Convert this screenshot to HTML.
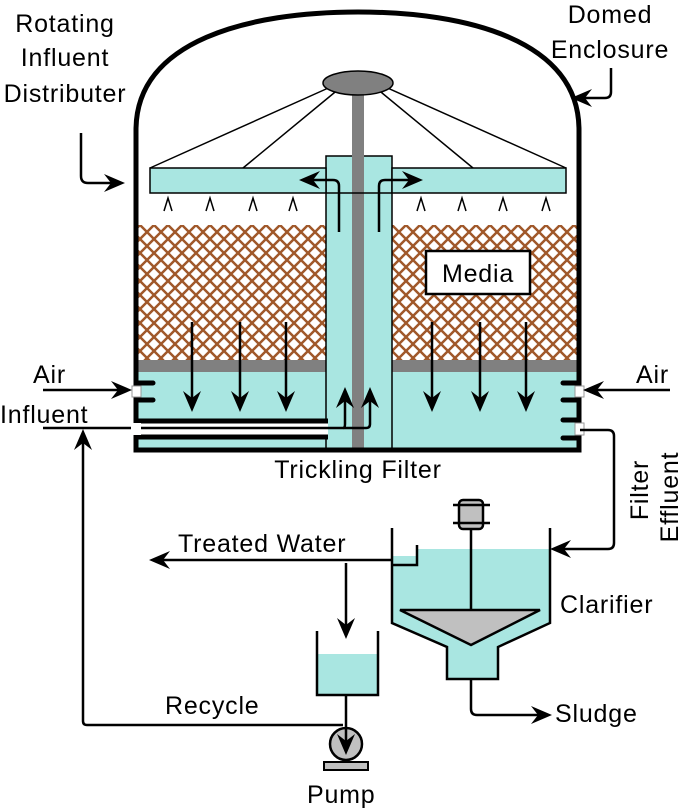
<!DOCTYPE html>
<html><head><meta charset="utf-8"><style>
html,body{margin:0;padding:0;background:#fff;}
svg{display:block;}
text{font-family:"Liberation Sans",sans-serif;font-size:25px;letter-spacing:0.8px;fill:#000;}
</style></head><body>
<svg width="685" height="810" viewBox="0 0 685 810" xmlns="http://www.w3.org/2000/svg" xmlns:xlink="http://www.w3.org/1999/xlink">
<defs>
<pattern id="hatch" width="14" height="14" patternUnits="userSpaceOnUse" x="0" y="225">
<rect width="14" height="14" fill="#fff"/>
<path d="M-1,-1 L15,15 M15,-1 L-1,15" stroke="#a0582a" stroke-width="2.5"/>
</pattern>
<path id="h" d="M1,0 L-20,-9 L-13,0 L-20,9 Z" fill="#000"/>
</defs>

<rect x="138" y="225" width="188" height="135" fill="url(#hatch)"/>
<rect x="392" y="225" width="186" height="135" fill="url(#hatch)"/>
<rect x="138" y="360" width="440" height="12" fill="#808080"/>
<rect x="138" y="372" width="440" height="77" fill="#a9e6e1"/>
<rect x="326" y="156" width="66" height="294" fill="#a9e6e1" stroke="#000" stroke-width="1.5"/>
<rect x="352" y="92" width="12" height="357" fill="#808080"/>
<rect x="150" y="168" width="176" height="25" fill="#a9e6e1" stroke="#000" stroke-width="1.5"/>
<rect x="392" y="168" width="174" height="25" fill="#a9e6e1" stroke="#000" stroke-width="1.5"/>
<line x1="326" y1="193" x2="392" y2="193" stroke="#000" stroke-width="1.5"/>
<g stroke="#000" stroke-width="1.5" fill="none">
<path d="M335,85 L150,168 M340,88 L243,168 M381,85 L566,168 M376,88 L473,168"/>
<path d="M164,211 L168,198 L172,211 M206,211 L210,198 L214,211 M249,211 L253,198 L257,211 M289,211 L293,198 L297,211 M417,211 L421,198 L425,211 M458,211 L462,198 L466,211 M499,211 L503,198 L507,211 M542,211 L546,198 L550,211"/>
</g>
<ellipse cx="358" cy="83" rx="35" ry="12" fill="#808080" stroke="#000" stroke-width="1.5"/>

<g stroke="#000" stroke-width="2.5" fill="none">
<path d="M339,232 V186 Q339,180 333,180 H304"/>
<path d="M379,232 V186 Q379,180 385,180 H418"/>
<path d="M192,322 V405 M240,322 V405 M286,322 V405 M432,322 V405 M480,322 V405 M526,322 V405"/>
</g>

<rect x="138" y="421" width="190" height="16" fill="#fff"/>
<g stroke="#000" stroke-width="5" fill="none">
<line x1="136" y1="421" x2="328" y2="421"/>
<line x1="136" y1="437" x2="328" y2="437"/>
</g>
<g stroke="#000" stroke-width="2.5" fill="none">
<path d="M43,428 H366 Q370,428 370,424 V395"/>
<path d="M343,428 Q345,428 345,424 V395"/>
</g>

<path d="M136,450 V130 C136,40 250,12 358,12 C466,12 579,40 579,130 V450 Z" fill="none" stroke="#000" stroke-width="5"/>
<rect x="132" y="386" width="9" height="11" fill="#fff" stroke="#999" stroke-width="1"/>
<rect x="575" y="386" width="9" height="11" fill="#fff" stroke="#999" stroke-width="1"/>
<rect x="575" y="423" width="9" height="12" fill="#fff" stroke="#999" stroke-width="1"/>
<rect x="131" y="423" width="10" height="12" fill="#fff"/>
<g stroke="#000" stroke-width="5" stroke-linecap="round">
<line x1="138" y1="383" x2="153" y2="383"/>
<line x1="138" y1="400" x2="153" y2="400"/>
<line x1="563" y1="383" x2="577" y2="383"/>
<line x1="563" y1="400" x2="577" y2="400"/>
<line x1="563" y1="420" x2="577" y2="420"/>
<line x1="563" y1="438" x2="577" y2="438"/>
</g>

<rect x="426" y="251" width="104" height="43" fill="#fff" stroke="#000" stroke-width="2.5"/>
<text x="478" y="282" text-anchor="middle">Media</text>

<text x="65" y="32" text-anchor="middle">Rotating</text>
<text x="65" y="66" text-anchor="middle">Influent</text>
<text x="65" y="102" text-anchor="middle">Distributer</text>
<text x="610" y="23" text-anchor="middle">Domed</text>
<text x="610" y="58" text-anchor="middle">Enclosure</text>
<text x="33" y="383">Air</text>
<text x="0" y="423">Influent</text>
<text x="636" y="383">Air</text>
<text x="358" y="478" text-anchor="middle">Trickling Filter</text>
<text transform="translate(648,490) rotate(-90)" text-anchor="middle">Filter</text>
<text transform="translate(678,497) rotate(-90)" text-anchor="middle">Effluent</text>
<text x="178" y="552">Treated Water</text>
<text x="560" y="613">Clarifier</text>
<text x="555" y="722">Sludge</text>
<text x="165" y="714">Recycle</text>
<text x="307" y="803">Pump</text>

<g stroke="#000" stroke-width="2.5" fill="none">
<path d="M81,133 V176 Q81,183 88,183 H118"/>
<path d="M611,68 V92 Q611,98 605,98 H578"/>
<path d="M43,390 H125"/>
<path d="M670,390 H590"/>
<path d="M580,430 H608 Q614,430 614,436 V543 Q614,549 608,549 H557"/>
<path d="M343,725 H87 Q83,725 83,721 V436"/>
</g>

<path d="M392,549 H550 V623 L498,647 V679 H447 V647 L392,623 Z" fill="#a9e6e1"/>
<rect x="392" y="549" width="25" height="16" fill="#fff"/>
<rect x="393" y="556" width="23" height="9" fill="#a9e6e1"/>
<path d="M392,528 V623 L447,647 V679 H498 V647 L550,623 V528" fill="none" stroke="#000" stroke-width="2.5"/>
<path d="M417,545 V565 H392" fill="none" stroke="#000" stroke-width="2.5"/>
<line x1="471" y1="528" x2="471" y2="610" stroke="#000" stroke-width="2.5"/>
<path d="M400,610 H540 L471,645 Z" fill="#c0c0c0" stroke="#000" stroke-width="2.5"/>
<rect x="459" y="500" width="24" height="29" rx="4" fill="#c0c0c0" stroke="#000" stroke-width="2.5"/>
<line x1="453" y1="505" x2="490" y2="505" stroke="#000" stroke-width="2.5"/>
<line x1="453" y1="523" x2="490" y2="523" stroke="#000" stroke-width="2.5"/>
<g stroke="#000" stroke-width="2.5" fill="none">
<path d="M392,560 H156"/>
<path d="M346,563 V632"/>
<path d="M471,679 V709 Q471,715 477,715 H545"/>
</g>

<rect x="317" y="654" width="61" height="41" fill="#a9e6e1"/>
<path d="M317,631 V695 H378 V631" fill="none" stroke="#000" stroke-width="2.5"/>
<rect x="324" y="762" width="44" height="8" fill="#c0c0c0" stroke="#000" stroke-width="2"/>
<circle cx="346" cy="744" r="16" fill="#c0c0c0" stroke="#000" stroke-width="2.5"/>
<path d="M346,695 V748" stroke="#000" stroke-width="2.5" fill="none"/>

<use xlink:href="#h" href="#h" transform="translate(300,180) rotate(180)"/>
<use xlink:href="#h" href="#h" transform="translate(422,180)"/>
<use xlink:href="#h" href="#h" transform="translate(192,411) rotate(90)"/>
<use xlink:href="#h" href="#h" transform="translate(240,411) rotate(90)"/>
<use xlink:href="#h" href="#h" transform="translate(286,411) rotate(90)"/>
<use xlink:href="#h" href="#h" transform="translate(432,411) rotate(90)"/>
<use xlink:href="#h" href="#h" transform="translate(480,411) rotate(90)"/>
<use xlink:href="#h" href="#h" transform="translate(526,411) rotate(90)"/>
<use xlink:href="#h" href="#h" transform="translate(370,388) rotate(-90)"/>
<use xlink:href="#h" href="#h" transform="translate(345,388) rotate(-90)"/>
<use xlink:href="#h" href="#h" transform="translate(124,183)"/>
<use xlink:href="#h" href="#h" transform="translate(572,98) rotate(180)"/>
<use xlink:href="#h" href="#h" transform="translate(131,390)"/>
<use xlink:href="#h" href="#h" transform="translate(584,390) rotate(180)"/>
<use xlink:href="#h" href="#h" transform="translate(551,549) rotate(180)"/>
<use xlink:href="#h" href="#h" transform="translate(83,430) rotate(-90)"/>
<use xlink:href="#h" href="#h" transform="translate(150,560) rotate(180)"/>
<use xlink:href="#h" href="#h" transform="translate(346,638) rotate(90)"/>
<use xlink:href="#h" href="#h" transform="translate(551,715)"/>
<use xlink:href="#h" href="#h" transform="translate(346,754) rotate(90)"/>
</svg>
</body></html>
